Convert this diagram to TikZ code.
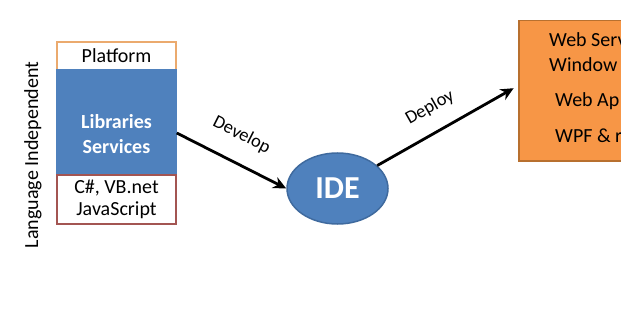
\documentclass[tikz,border=0pt]{standalone}
\usepackage{fontspec}
\setmainfont{Carlito}
\usetikzlibrary{positioning,shapes.geometric,arrows.meta}
\definecolor{accent}{HTML}{4F81BD}
\definecolor{accentdark}{HTML}{3F6A9E}
\definecolor{deploybg}{HTML}{F79646}
\definecolor{deployedge}{HTML}{B8702F}
\definecolor{platedge}{HTML}{EBAA6E}
\definecolor{langedge}{HTML}{A35552}
\tikzset{
  layer/.style={draw, line width=1.5pt, minimum width=119pt, inner sep=0pt, align=center, font=\fontsize{20}{22}\selectfont},
  appline/.style={anchor=west, inner sep=0pt, font=\fontsize{20}{22}\selectfont},
  flow/.style={-{Stealth[length=13pt,width=12pt]}, line width=2.8pt},
  tag/.style={sloped, above, inner sep=0pt, font=\fontsize{18.5}{20}\selectfont}
}
\begin{document}
\begin{tikzpicture}[x=1pt, y=-1pt]
  \useasboundingbox (0,0) rectangle (621,326);
  \clip (0,0) rectangle (621,326);

  \node[layer, draw=platedge, minimum height=28pt] (plat) at (116.5,56) {Platform};
  \node[layer, draw=accent, fill=accent, minimum height=104pt] (lib) at (116.5,122) {};
  \node[align=center, text=white, inner sep=0pt, font=\bfseries\fontsize{20}{25}\selectfont] (libtext) at (116.5,134.5) {Libraries\\Services};
  \node[layer, draw=langedge, minimum height=49pt, font=\fontsize{20}{22}\selectfont] (lang) at (116.5,199.5) {C\#, VB.net\\JavaScript};
  \node[rotate=90, inner sep=0pt, font=\fontsize{20}{22}\selectfont] (indep) at (33,155) {Language Independent};

  \node[ellipse, draw=accentdark, fill=accent, line width=1.5pt, minimum width=101pt, minimum height=71pt,
        inner sep=0pt, text=white, font=\bfseries\fontsize{32}{32}\selectfont] (ide) at (337.5,188.5) {IDE};

  \node[draw=deployedge, fill=deploybg, line width=1.5pt, minimum width=200pt, minimum height=140pt,
        anchor=north west, inner sep=0pt] (apps) at (518,20) {};
  \node[appline] (websrv) at (549,40) {Web Serv};
  \node[appline] (winapp) at (549,65) {Window};
  \node[appline] (webapp) at (555,101) {Web Ap};
  \node[appline] (wpf) at (555,136) {WPF \& r};

  \draw[flow] ([yshift=-11pt]lib.east) -- (ide.west) node[tag, pos=0.48, above=18pt] {Develop};
  \draw[flow, shorten >=5pt] (ide.30) -- ([yshift=5pt]apps.west) node[tag, pos=0.46, above=15pt] {Deploy};
\end{tikzpicture}
\end{document}
